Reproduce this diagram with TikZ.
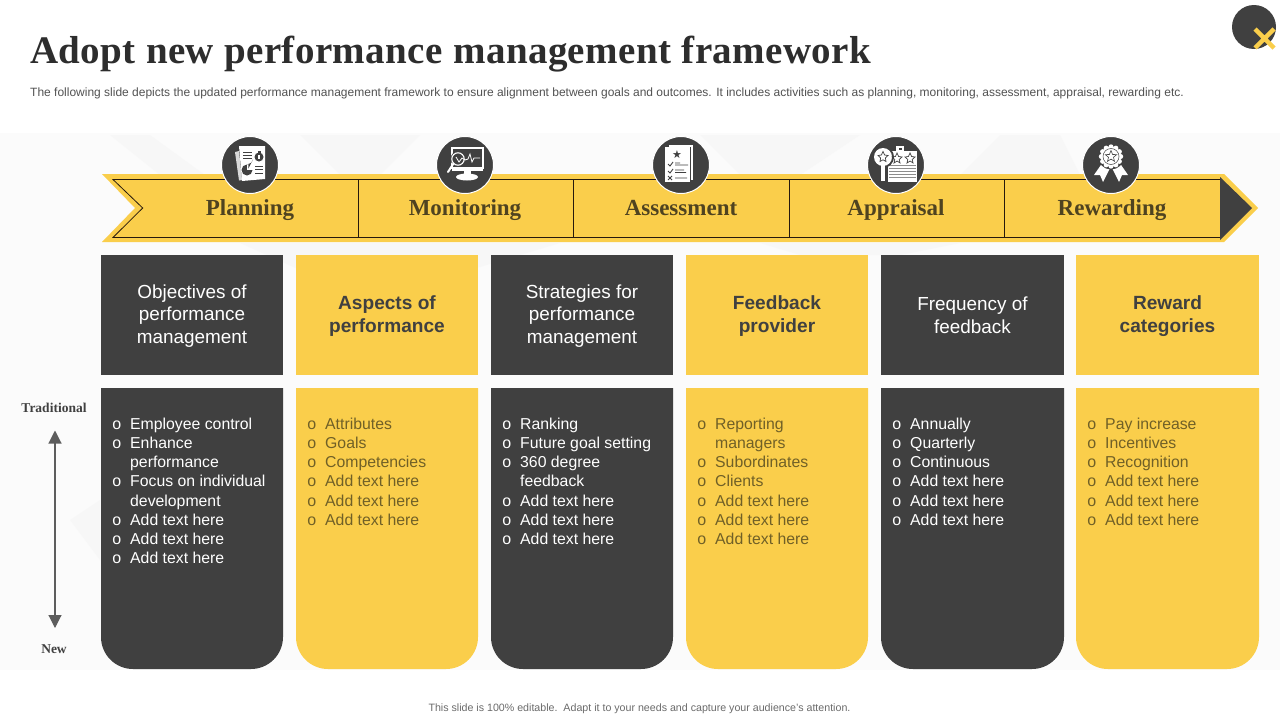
\documentclass[tikz,border=0pt]{standalone}
\usepackage{fontspec}
\setmainfont{Liberation Sans}
\newfontfamily\serifb[Ligatures=TeX]{Liberation Serif}
\newfontfamily\symb{DejaVu Sans}
\usetikzlibrary{arrows.meta}
\definecolor{ydark}{HTML}{404040}
\definecolor{yel}{HTML}{FACE4B}
\definecolor{olive}{HTML}{706027}
\definecolor{brownt}{HTML}{4F4320}
\newcommand{\bl}{\llap{\fontsize{16}{15}\selectfont o\hspace{9pt}}}
\tikzset{
 x=1pt,y=-1pt,
 headD/.style={fill=ydark,minimum width=182pt,minimum height=120pt,inner sep=0pt},
 headY/.style={fill=yel,minimum width=182pt,minimum height=120pt,inner sep=0pt},
 labD/.style={inner sep=0pt,align=center,text=white,font=\fontsize{18.9}{22.6}\selectfont},
 labY/.style={inner sep=0pt,align=center,text=ydark,font=\fontsize{19.1}{22.8}\selectfont\bfseries},
 listD/.style={anchor=north west,inner sep=0pt,text=white,align=left,font=\fontsize{15.8}{19.1}\selectfont},
 listY/.style={anchor=north west,inner sep=0pt,text=olive,align=left,font=\fontsize{15.8}{19.1}\selectfont},
 stage/.style={anchor=base,text=brownt,font=\serifb\bfseries\fontsize{23}{26}\selectfont,inner sep=0pt},
 ico/.style={circle,fill=ydark,draw=white,line width=1pt,minimum size=57pt,inner sep=0pt},
 axis/.style={font=\serifb\bfseries\fontsize{13.5}{15}\selectfont,text=ydark,inner sep=0pt},
 wht/.style={fill=white,draw=none},
 wl/.style={draw=ydark,line width=0.9pt},
 wmark/.style={fill=black!3,draw=none},
}
\newcommand{\bodyshape}[3]{\fill[#3] (#1,388) -- (#2,388) -- (#2,637) arc[start angle=0,end angle=90,radius=32] -- ({#1+32},669) arc[start angle=90,end angle=180,radius=32] -- cycle;}
\begin{document}
\begin{tikzpicture}
\useasboundingbox (0,0) rectangle (1280,720);
\fill[white] (0,0) rectangle (1280,720);
% faint watermark
\fill[black!1.5] (0,133) rectangle (1280,670);
\fill[wmark] (110,135) -- (150,135) -- (205,175) -- (160,175) -- cycle;
\fill[wmark] (240,243) -- (560,243) -- (470,270) -- (300,270) -- cycle;
\fill[wmark] (700,135) -- (860,135) -- (800,175) -- (740,175) -- cycle;
\fill[wmark] (300,135) -- (420,135) -- (380,175) -- (340,175) -- cycle;
\fill[wmark] (1000,135) -- (1060,135) -- (1080,175) -- (960,175) -- cycle;
\fill[wmark] (760,243) -- (960,243) -- (900,255) -- (800,255) -- cycle;
\fill[wmark] (70,520) -- (100,500) -- (100,560) -- cycle;
% title
\node[anchor=west,inner sep=0pt,text=ydark!70!black] (title) at (30,54) {\serifb\bfseries\addfontfeature{LetterSpace=1.1}\fontsize{39}{42}\selectfont Adopt new performance management framework};
\node[anchor=west,inner sep=0pt,text=black!68] (sub) at (30,93) {\fontsize{12.0}{14}\selectfont The following slide depicts the updated performance management framework to ensure alignment between goals and outcomes. It includes activities such as planning, monitoring, assessment, appraisal, rewarding etc.};
% corner mark
\node[circle,fill=ydark,minimum size=44pt,inner sep=0pt] (corner) at (1254,27) {};
\draw[yel,line width=4.5pt] (1255,29) -- (1274,48) (1274,29) -- (1255,48);
% banner
\fill[yel] (102,174) -- (1224,174) -- (1258,208) -- (1224,242) -- (102,242) -- (135,208) -- cycle;
\draw[line width=0.8pt,black!80!brown] (1220,179.5) -- (113,179.5) -- (142.7,208) -- (113,237.5) -- (1220,237.5);
\foreach \x in {358,573.5,789,1004.5}{\draw[line width=0.8pt,black!80!brown] (\x,179.5) -- (\x,237.5);}
\fill[ydark] (1220,177) -- (1252,208) -- (1220,240) -- cycle;
\node[stage] (s1) at (250,215.5) {Planning};
\node[stage] (s2) at (465,215.5) {Monitoring};
\node[stage] (s3) at (681,215.5) {Assessment};
\node[stage] (s4) at (896,215.5) {Appraisal};
\node[stage] (s5) at (1112,215.5) {Rewarding};
% icons
\node[ico] (i1) at (250,165) {};
\node[ico] (i2) at (465,165) {};
\node[ico] (i3) at (681,165) {};
\node[ico] (i4) at (896,165) {};
\node[ico] (i5) at (1111,165) {};
% icon 1: report
\begin{scope}[shift={(250,165)}]
\fill[white!85!black] (-15,-13) -- (-11,-14) -- (-8,15) -- (-11,15.5) -- cycle;
\fill[wht] (-11,-19) -- (15,-19) -- (15,14) -- (-8,16) -- cycle;
\draw[wl] (-7,-13) -- (2,-13) (-7,-10) -- (2,-10) (-7,-7) -- (2,-7);
\fill[ydark] (9,-8) circle[radius=4.5]; \fill[ydark] (7.5,-14.5) rectangle (10.5,-11.5);
\fill[white] (8.3,-10) rectangle (9.7,-6);
\fill[ydark] (-3,5) circle[radius=5.5];
\fill[white] (-3,5) -- (-3,-0.5) -- (2.5,-0.5) -- (2.5,5) -- cycle;
\fill[ydark] (-1.7,3.7) -- (-1.7,-1) arc[start angle=90,end angle=0,radius=4.7] -- cycle;
\draw[wl] (5,1) -- (13,1) (5,4.5) -- (13,4.5) (5,8) -- (13,8);
\end{scope}
% icon 2: monitor
\begin{scope}[shift={(465,165)}]
\draw[white,line width=1.3pt] (-13,-17) rectangle (18,3);
\fill[white] (-13,3) rectangle (18,6);
\fill[white] (-1,6) rectangle (6,10);
\fill[white] (2,12) ellipse[x radius=11,y radius=3.5];
\fill[ydark] (-7,-6) circle[radius=7.5];
\draw[white,line width=1.1pt] (-7,-6) circle[radius=6.2];
\draw[white,line width=2pt,line cap=round] (-11.5,-1.5) -- (-17,7);
\draw[white,line width=0.8pt] (-9,-8) -- (-6,-3) -- (-3,-7) -- (0,-5) -- (3,-6) -- (5,-11) -- (7,-3) -- (9,-7) -- (15,-7);
\end{scope}
% icon 3: checklist
\begin{scope}[shift={(681,165)}]
\fill[white] (-12,-20) rectangle (12,15);
\draw[ydark,line width=0.7pt] (-12,-18) -- (9.5,-18) -- (9.5,15);
\fill[wht] (-16,-18) rectangle (9,17);
\node[inner sep=0pt,text=ydark] (star) at (-4,-10) {\symb\fontsize{11}{11}\selectfont ★};
\draw[ydark,line width=0.9pt] (-13,-1) -- (-11,1) -- (-8,-3) (-6,-2) -- (-1,-2) (-6,0) -- (7,0);
\draw[ydark,line width=0.9pt] (-13,6) -- (-11,8) -- (-8,4) (-6,5) -- (3,5) (-6,7.5) -- (5,7.5);
\draw[ydark,line width=0.9pt] (-13,11) -- (-9,15) (-13,15) -- (-9,11) (-6,13) -- (6,13);
\end{scope}
% icon 4: clipboard with rosette
\begin{scope}[shift={(896,165)}]
\fill[white] (-8,-14) rectangle (21,17);
\fill[white] (0,-19) rectangle (8,-14);
\fill[ydark] (2.5,-17.5) rectangle (5.5,-15.5);
\foreach \y in {0,3,6,9,12}{\fill[black!45] (-7,\y) rectangle (20,{\y+1.3});}
\fill[ydark] (-13,-8) circle[radius=11];
\fill[ydark] (-10,0) rectangle (-8,17);
\fill[white] (-15,-1) rectangle (-11,16);
\fill[white] (-13,-8) circle[radius=9];
\draw[ydark,line width=0.7pt] (-13,-13.5) -- (-11.4,-10) -- (-8,-9.5) -- (-10.6,-7) -- (-10,-3.5) -- (-13,-5.2) -- (-16,-3.5) -- (-15.4,-7) -- (-18,-9.5) -- (-14.6,-10) -- cycle;
\draw[ydark,line width=0.7pt] (1,-12) -- (2.6,-8.5) -- (6,-8) -- (3.2,-5.5) -- (4,-2) -- (1,-4) -- (-2,-2) -- (-1.2,-5.5) -- (-4,-8) -- (-0.6,-8.5) -- cycle;
\draw[ydark,line width=0.7pt] (14,-12) -- (15.6,-8.5) -- (19,-8) -- (16.2,-5.5) -- (17,-2) -- (14,-4) -- (11,-2) -- (11.8,-5.5) -- (9,-8) -- (12.4,-8.5) -- cycle;
\end{scope}
% icon 5: award
\begin{scope}[shift={(1111,165)}]
\fill[white] (-8,-3) -- (-17,10) -- (-11,10) -- (-8,17) -- (-1,3) -- cycle;
\fill[white] (8,-3) -- (17,10) -- (11,10) -- (8,17) -- (1,3) -- cycle;
\begin{scope}[shift={(0,-8.5)}]
\fill[ydark] (0,0) circle[radius=13];
\foreach \a in {0,30,...,330}{\fill[white] (\a:9.7) circle[radius=2.5];}
\fill[white] (0,0) circle[radius=10.2];
\draw[ydark,line width=0.5pt] (0,0) circle[radius=8];
\draw[ydark,line width=0.6pt] (0,-6) -- (1.6,-2) -- (5.7,-1.9) -- (2.5,0.8) -- (3.5,4.8) -- (0,2.6) -- (-3.5,4.8) -- (-2.5,0.8) -- (-5.7,-1.9) -- (-1.6,-2) -- cycle;
\end{scope}
\end{scope}
% headers
\node[headD] (h1) at (192,315) {};
\node[headY] (h2) at (387,315) {};
\node[headD] (h3) at (582,315) {};
\node[headY] (h4) at (777,315) {};
\node[headD,minimum width=183pt] (h5) at (972.5,315) {};
\node[headY,minimum width=183pt] (h6) at (1167.5,315) {};
\node[labD] (t1) at (192,316) {Objectives of\\performance\\management};
\node[labY] (t2) at (387,316) {Aspects of\\performance};
\node[labD] (t3) at (582,316) {Strategies for\\performance\\management};
\node[labY] (t4) at (777,316) {Feedback\\provider};
\node[labD] (t5) at (972.5,315) {Frequency of\\feedback};
\node[labY] (t6) at (1167.5,316) {Reward\\categories};
% bodies
\bodyshape{101}{283}{ydark}
\bodyshape{296}{478}{yel}
\bodyshape{491}{673}{ydark}
\bodyshape{686}{868}{yel}
\bodyshape{881}{1064}{ydark}
\bodyshape{1076}{1259}{yel}
\node[listD] (l1) at (130,418) {\bl Employee control\\\bl Enhance\\performance\\\bl Focus on individual\\development\\\bl Add text here\\\bl Add text here\\\bl Add text here};
\node[listY] (l2) at (325,418) {\bl Attributes\\\bl Goals\\\bl Competencies\\\bl Add text here\\\bl Add text here\\\bl Add text here};
\node[listD] (l3) at (520,418) {\bl Ranking\\\bl Future goal setting\\\bl 360 degree\\feedback\\\bl Add text here\\\bl Add text here\\\bl Add text here};
\node[listY] (l4) at (715,418) {\bl Reporting\\managers\\\bl Subordinates\\\bl Clients\\\bl Add text here\\\bl Add text here\\\bl Add text here};
\node[listD] (l5) at (910,418) {\bl Annually\\\bl Quarterly\\\bl Continuous\\\bl Add text here\\\bl Add text here\\\bl Add text here};
\node[listY] (l6) at (1105,418) {\bl Pay increase\\\bl Incentives\\\bl Recognition\\\bl Add text here\\\bl Add text here\\\bl Add text here};
% axis
\node[axis] (trad) at (54,407.5) {Traditional};
\node[axis] (new) at (54,649) {New};
\draw[{Triangle[length=13pt,width=13pt]}-{Triangle[length=13pt,width=13pt]},ydark!85,line width=1.1pt,shorten <=23pt,shorten >=21pt] (trad.center) ++(1,0) coordinate (aT) (aT) -- (new.center -| aT);
% footer
\node[inner sep=0pt,text=black!58] (foot) at (639.5,709) {\fontsize{10.65}{12}\selectfont This slide is 100\% editable.\ \ Adapt it to your needs and capture your audience's attention.};
\end{tikzpicture}
\end{document}
